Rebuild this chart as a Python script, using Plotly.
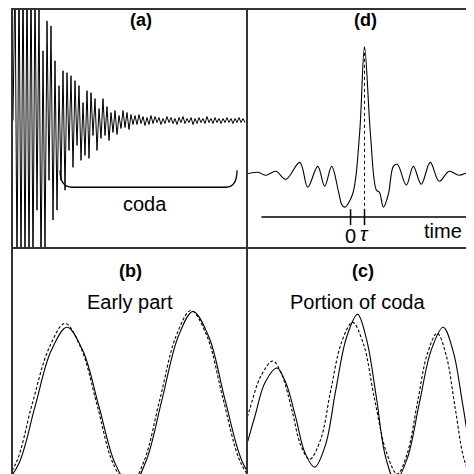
import plotly.graph_objects as go

# (a) seismogram, sampled every 2 units
a_x = list(range(5, 239, 2))
a_y = [0, 150, -150, 150, -150, 150, -150, 150, -150, 150, -150,
       140, -90, 120, -150, 70, -130, 100, -60, 95, -100,
       60, -90, 35, -60, 50, -70, 48, -30, 45, -47,
       40, -25, 35, -40, 18, -35, 30, -38, 28, -15,
       22, -30, 12, -18, 22, -15, 14, -20, 8, -12,
       10, -14, 5, -8, 10, -7, 8, -9, 6, -4,
       5, -4, 6, -3, 4, -5, 3, -4, 5, -3, 4, -2, 3, -4, 2, -3, 4, -2, 3, -3,
       2, -4, 3, -2, 4, -3, 2, -2, 3, -4, 2, -3, 3, -2, 2, -3, 4, -2, 2, -3,
       3, -2, 2, -3, 2, -2, 3, -2, 2, -3, 2, -2, 3, -2, 2, -2, 3]
a_y = a_y[:len(a_x)]

# (d) cross-correlation
d_t = [-106, -93, -85, -75, -65, -51, -43, -33, -26, -19, -12, -9, -6, 2, 9, 14,
       20, 26, 29, 33, 38, 43, 47, 56, 63, 71, 80, 89, 99, 109, 119, 131]
d_a = [0, 2, -1, 3, -5, 12, -13, 8, -12, 8, -18, -30, -33, -20, 40, 128,
       40, -16, -18, -33, -20, 8, 10, -11, 8, -10, 12, -7, 3, -1, 2, 0]

# (b) early part, solid vs dashed
b_x = [-5, 11, 27, 43, 59, 75, 91, 107, 123, 138, 154, 170, 185, 201, 217, 234, 250]
b_y = [-6, 18, 75, 131, 155, 131, 75, 18, -6, 20, 82, 145, 171, 145, 82, 20, -6]
b_xd = [-8, 8, 24, 41, 57, 73, 89, 105, 121, 136, 152, 168, 183, 199, 215, 232, 248]
b_yd = [-6, 18, 77, 134, 159, 134, 77, 18, -6, 20, 83, 146, 172, 146, 83, 20, -6]

# (c) portion of coda
c_x = [222, 234, 246, 257, 269, 278, 288, 297, 307, 318, 328, 339, 350,
       359, 369, 378, 388, 400, 412, 424, 436, 446, 456, 466, 476]
c_y = [10, 25, 62, 99, 114, 99, 64, 29, 14, 37, 91, 145, 168,
       143, 84, 25, 0, 23, 78, 132, 155, 131, 75, 18, -6]
c_xd = [218, 230, 241, 253, 265, 274, 284, 293, 302, 313, 323, 334, 345,
        356, 367, 379, 390, 400, 410, 420, 430, 439, 448, 457, 466]
c_yd = [20, 35, 70, 106, 121, 107, 72, 36, 22, 42, 91, 140, 160,
        138, 83, 29, 7, 28, 78, 128, 149, 127, 74, 22, 0]

fig = go.Figure()
ln = dict(color="black", width=1)
sp = dict(color="black", width=1.1, shape="spline")
dsp = dict(color="black", width=1.1, dash="3px,2px", shape="spline")
fig.add_trace(go.Scatter(x=a_x, y=a_y, mode="lines", line=ln, xaxis="x", yaxis="y"))
fig.add_trace(go.Scatter(x=d_t, y=d_a, mode="lines", line=sp, xaxis="x2", yaxis="y2"))
fig.add_trace(go.Scatter(x=b_x, y=b_y, mode="lines", line=sp, xaxis="x3", yaxis="y3"))
fig.add_trace(go.Scatter(x=b_xd, y=b_yd, mode="lines", line=dsp, xaxis="x3", yaxis="y3"))
fig.add_trace(go.Scatter(x=c_x, y=c_y, mode="lines", line=sp, xaxis="x4", yaxis="y4"))
fig.add_trace(go.Scatter(x=c_xd, y=c_yd, mode="lines", line=dsp, xaxis="x4", yaxis="y4"))

ax = dict(showgrid=False, zeroline=False, showticklabels=False, ticks="",
          showline=True, linecolor="#333", linewidth=2, mirror=True)
xs = 233 / 468
ys = 1 - 238 / 473
fig.update_layout(
    width=474, height=474, showlegend=False,
    margin=dict(l=5, r=1, t=0, b=1),
    paper_bgcolor="white", plot_bgcolor="white",
    font=dict(family="Arial", color="black"),
    xaxis=dict(ax, domain=[0, xs], range=[5, 238]),
    yaxis=dict(ax, domain=[ys, 1], range=[-127, 111]),
    xaxis2=dict(ax, domain=[xs, 1], range=[-105, 131]),
    yaxis2=dict(ax, domain=[ys, 1], range=[-73, 165]),
    xaxis3=dict(ax, domain=[0, xs], range=[5, 238]),
    yaxis3=dict(ax, domain=[0, ys], range=[0, 236]),
    xaxis4=dict(ax, domain=[xs, 1], range=[238, 474]),
    yaxis4=dict(ax, domain=[0, ys], range=[0, 236]),
)

def txt(x, y, t, xr, yr, size=20, bold=False):
    fig.add_annotation(x=x, y=y, xref=xr, yref=yr, text=f"<b>{t}</b>" if bold else t,
                       showarrow=False, font=dict(size=size, family="Arial", color="black"))

txt(133, 101, "(a)", "x", "y", 18, True)
txt(137, -84, "coda", "x", "y")
txt(15, 155, "(d)", "x2", "y2", 18, True)
txt(93, -57, "time", "x2", "y2")
txt(0, -62, "0", "x2", "y2")
txt(14, -60, "<i>τ</i>", "x2", "y2")
txt(122, 212, "(b)", "x3", "y3", 18, True)
txt(122, 181, "Early part", "x3", "y3")
txt(355, 212, "(c)", "x4", "y4", 18, True)
txt(350, 181, "Portion of coda", "x4", "y4")

# brace under coda
fig.add_shape(type="path", xref="x", yref="y", line=dict(color="black", width=1.3),
              path="M 52,-50 Q 52,-67 64,-67 L 218,-67 Q 229,-67 229,-50")
# time arrow
fig.add_annotation(x=127, y=-43, ax=-91, ay=-43, xref="x2", yref="y2", axref="x2", ayref="y2",
                   showarrow=True, arrowhead=2, arrowsize=1.3, arrowwidth=1.5,
                   arrowcolor="black", text="")
for t in [0, 14]:
    fig.add_shape(type="line", xref="x2", yref="y2", x0=t, x1=t, y0=-35, y1=-51,
                  line=dict(color="black", width=1.5))
fig.add_shape(type="line", xref="x2", yref="y2", x0=14, x1=14, y0=128, y1=-43,
              line=dict(color="black", width=1, dash="dot"))

fig.write_html("out.html")
